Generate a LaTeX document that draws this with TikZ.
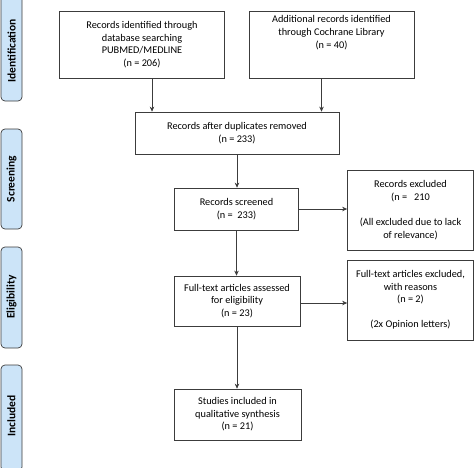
\documentclass[tikz,border=0pt]{standalone}
\usepackage{fontspec}
\setmainfont{Carlito}
\usepackage{tikz}
\usetikzlibrary{arrows.meta}
\usetikzlibrary{positioning}

\definecolor{tabblue}{RGB}{204,228,248}
\definecolor{linegray}{RGB}{60,60,60}

\tikzset{
	box/.style={draw=linegray, line width=0.7pt, align=center, inner sep=2pt,
		font=\fontsize{10.3}{12.6}\selectfont},
	tab/.style={draw=linegray, fill=tabblue, line width=0.7pt, rounded corners=4pt},
	tablabel/.style={rotate=90, font=\fontsize{11.5}{13}\selectfont\bfseries}
}

\begin{document}
\begin{tikzpicture}[x=1pt,y=-1pt]
	\useasboundingbox (0,0) rectangle (474,467);

	% side tabs
	\path[tab] (1,-4) rectangle (22,101);
	\node[tablabel] (t1) at (11.5,51) {Identification};
	\path[tab] (1,129) rectangle (22,229);
	\node[tablabel] (t2) at (11.5,179) {Screening};
	\path[tab] (1,247) rectangle (22,348);
	\node[tablabel] (t3) at (11.5,297) {Eligibility};
	\path[tab] (1,365) rectangle (22,471);
	\node[tablabel] (t4) at (11.5,416) {Included};

	% boxes
	\node[box, minimum width=165pt, minimum height=67pt] (id1) at (142,44.5)
		{Records identified through\\database searching\\PUBMED/MEDLINE\\(n = 206)};
	\node[box, minimum width=165pt, minimum height=67pt] (id2) at (331.5,44.5)
		{Additional records identified\\through Cochrane Library\\(n = 40)\\[12.6pt]};
	\node[box, minimum width=204pt, minimum height=42pt] (dup) at (237,133)
		{Records after duplicates removed\\(n = 233)};
	\node[box, minimum width=124pt, minimum height=42pt] (scr) at (236.5,209)
		{Records screened\\(n =~~233)};
	\node[box, minimum width=126pt, minimum height=80pt] (exc) at (410.5,210)
		{Records excluded\\(n =~~~210\\[12.6pt](All excluded due to lack\\of relevance)};
	\node[box, minimum width=126pt, minimum height=80pt] (fexc) at (410.5,300)
		{Full-text articles excluded,\\with reasons\\(n = 2)\\[12.6pt](2x Opinion letters)};
	\node[box, minimum width=126pt, minimum height=50pt] (full) at (237,301)
		{Full-text articles assessed\\for eligibility\\(n = 23)};
	\node[box, minimum width=127pt, minimum height=51pt] (incl) at (237.5,414.5)
		{Studies included in\\qualitative synthesis\\(n = 21)};

	\begin{scope}[>={Stealth[length=5pt,width=4.5pt]},
			every edge/.style={draw=linegray, line width=0.7pt}]
		\path[->] ([xshift=10pt]id1.south) edge ([xshift=10pt]id1.south |- dup.north);
		\path[->] ([xshift=-10pt]id2.south) edge ([xshift=-10pt]id2.south |- dup.north);
		\path[->] (dup.south) edge (dup.south |- scr.north);
		\path[->] (scr.south) edge (scr.south |- full.north);
		\path[->] (full.south) edge (full.south |- incl.north);
		\path[->] (scr.east) edge (scr.east -| exc.west);
		\path[->] ([yshift=-2pt]full.east) edge ([yshift=-2pt]full.east -| fexc.west);
	\end{scope}

\end{tikzpicture}
\end{document}
